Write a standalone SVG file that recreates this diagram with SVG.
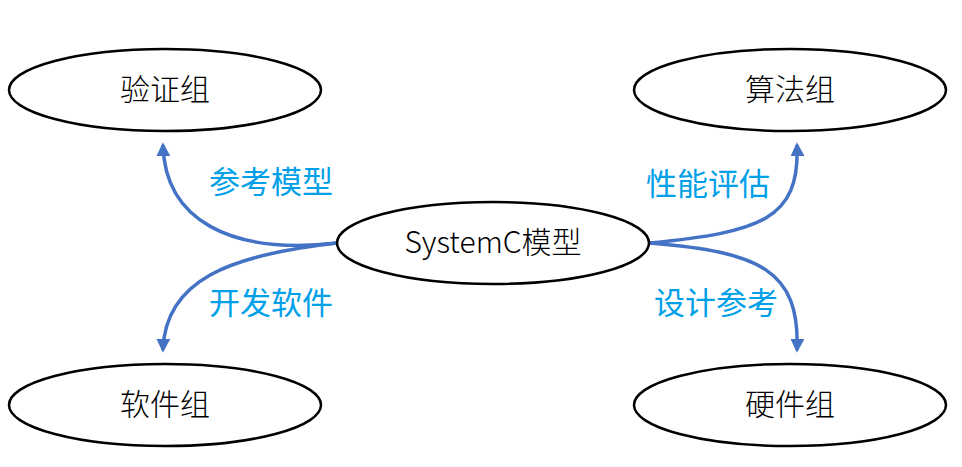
<svg xmlns="http://www.w3.org/2000/svg" width="962" height="467" viewBox="0 0 962 467">
<style>
.n{fill:#fff;stroke:#000;stroke-width:2.5}
.t{font-family:"Noto Sans CJK SC",sans-serif;font-size:30px;font-weight:300;fill:#000;text-anchor:middle;dominant-baseline:central}
.c{fill:none;stroke:#4472C4;stroke-width:3.5;marker-end:url(#a)}
.l{font-family:"Noto Sans CJK SC",sans-serif;font-size:31px;fill:#00A0E9;text-anchor:middle;dominant-baseline:central}
</style>
<defs><marker id="a" viewBox="0 0 10 10" refX="8" refY="5" markerWidth="4" markerHeight="4" orient="auto"><path d="M0,0L10,5L0,10z" fill="#4472C4"/></marker></defs>
<rect width="962" height="467" fill="#fff"/>
<g id="connectors">
<path class="c" d="M337,243 C230,255 165,220 163,145"/>
<path class="c" d="M337,243 C230,255 165,280 163,350"/>
<path class="c" d="M650,243 C760,232 800,220 797,145"/>
<path class="c" d="M650,243 C760,252 800,270 797,350"/>
<text class="l" x="271" y="179">参考模型</text>
<text class="l" x="271" y="300">开发软件</text>
<text class="l" x="708" y="181">性能评估</text>
<text class="l" x="716" y="300">设计参考</text>
</g>
<g id="n1"><ellipse class="n" cx="165" cy="90" rx="156" ry="41"/><text class="t" x="165" y="87">验证组</text></g>
<g id="n2"><ellipse class="n" cx="790" cy="90" rx="156" ry="41"/><text class="t" x="790" y="87">算法组</text></g>
<g id="n3"><ellipse class="n" cx="165" cy="405" rx="156" ry="41"/><text class="t" x="165" y="402">软件组</text></g>
<g id="n4"><ellipse class="n" cx="790" cy="405" rx="156" ry="41"/><text class="t" x="790" y="402">硬件组</text></g>
<g id="n5"><ellipse class="n" cx="493" cy="243" rx="156" ry="41"/><text class="t" x="493" y="240">SystemC模型</text></g>
</svg>
